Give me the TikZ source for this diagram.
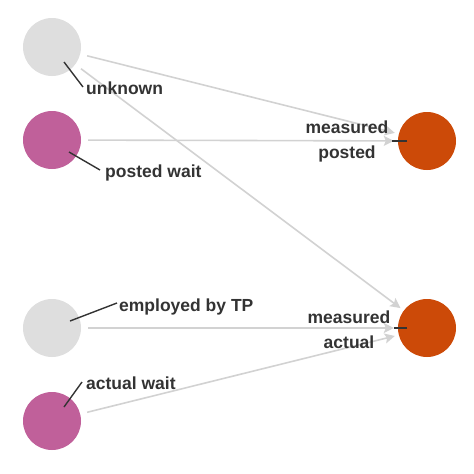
\documentclass[tikz,border=0pt]{standalone}
\usepackage{fontspec}
\setmainfont{Liberation Sans}
\usetikzlibrary{arrows.meta}
\definecolor{nodegray}{HTML}{DEDEDE}
\definecolor{nodepink}{HTML}{C0609A}
\definecolor{nodeorange}{HTML}{CC4A08}
\definecolor{edgegray}{HTML}{D2D2D2}
\definecolor{textgray}{HTML}{333333}
\tikzset{
  dot/.style={circle, minimum size=58pt, inner sep=0pt, draw=none},
  edge/.style={draw=edgegray, line width=1.6pt, shorten <=7pt, shorten >=4pt,
    -{Stealth[length=10pt,width=10pt,inset=2pt]}},
  lbl/.style={font=\fontsize{17.5}{20}\selectfont\bfseries, text=textgray, inner sep=0pt},
  leader/.style={draw=textgray, line width=1.4pt}
}
\begin{document}
\begin{tikzpicture}[x=1pt,y=-1pt]
\useasboundingbox (0,0) rectangle (474,474);
\node[dot, fill=nodegray] (unk) at (52,47) {};
\node[dot, fill=nodepink] (pw) at (52,140) {};
\node[dot, fill=nodegray] (emp) at (52,328) {};
\node[dot, fill=nodepink] (aw) at (52,421) {};
\node[dot, fill=nodeorange] (mp) at (427,141) {};
\node[dot, fill=nodeorange] (ma) at (427,328) {};

\draw[edge] (unk) -- (mp);
\draw[edge] (unk) -- (ma);
\draw[edge] (pw) -- (mp);
\draw[edge] (emp) -- (ma);
\draw[edge] (aw) -- (ma);

\node[lbl, anchor=base west] (tunk) at (86,94) {unknown};
\node[lbl, anchor=base west] (tpw) at (105,177) {posted wait};
\node[lbl, anchor=base west] (temp) at (119,311) {employed by TP};
\node[lbl, anchor=base west] (taw) at (86,389) {actual wait};
\node[lbl, anchor=base] (tmp1) at (347,133) {measured};
\node[lbl, anchor=base] (tmp2) at (347,158) {posted};
\node[lbl, anchor=base] (tma1) at (349,323) {measured};
\node[lbl, anchor=base] (tma2) at (349,348) {actual};

\coordinate (cunk) at (64,62);
\coordinate (eunk) at (83,87);
\coordinate (cpw) at (69,152);
\coordinate (epw) at (100,170);
\coordinate (cemp) at (70,321);
\coordinate (eemp) at (117,303);
\coordinate (caw) at (64,407);
\coordinate (eaw) at (82,382);
\coordinate (cmp) at (407,141);
\coordinate (emp2) at (392,141);
\coordinate (cma) at (407,328);
\coordinate (ema) at (394,328);
\draw[leader] (cunk) -- (eunk);
\draw[leader] (cpw) -- (epw);
\draw[leader] (cemp) -- (eemp);
\draw[leader] (caw) -- (eaw);
\draw[leader] (cmp) -- (emp2);
\draw[leader] (cma) -- (ema);
\end{tikzpicture}
\end{document}
